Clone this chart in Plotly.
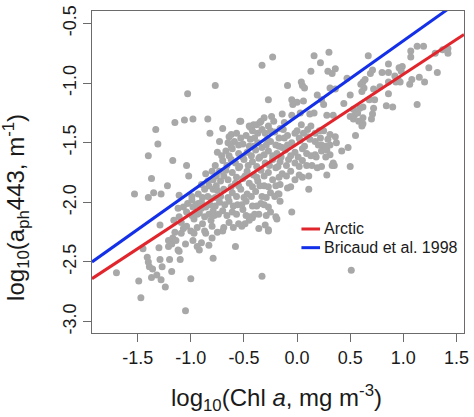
import plotly.graph_objects as go

# ---- data ----
log_chl = [
    -0.77, -1.03,
    -0.33, -0.23, 0.16, 0.22, 0.30, 0.13, 0.29, 0.33, 0.36, -0.09, 0.04, 0.05, 0.07, -0.27, -0.05, 0.00, -0.04, 0.06,
    0.19, 0.23, 0.25, 0.31, 0.36, -0.14, -0.05, -0.31, -0.24, 0.12, 0.16, 0.28, 0.34, 0.03,
    0.67, 0.86, 1.07, 1.13, 1.19, 1.07, 1.30, 1.37, 1.42, 1.42, 1.24, 1.32, 1.15, 1.20, 1.06, 1.08, 0.96, 0.99, 0.98,
    0.92, 0.95, 0.97, 0.80, 0.86, 0.71, 0.69, 0.64, 0.62, 0.60, 0.63, 0.61, 0.47, 0.86, 0.93, 0.72, 0.78, 0.86, 0.50,
    0.68, 0.73, 0.44, 0.59, 0.62, 0.53, 0.57, 0.72, 0.71, 0.84, 0.90, 1.13, 0.50, 0.54, 0.62,
    0.55, 0.48, 0.42, 0.50, 0.53, 0.58, 0.61, 0.62, 0.70,
    -1.33, -1.15, -1.06, -0.98, -0.84, -0.82, -1.31, -1.40, -1.17, -1.04, -1.37, -1.02, -1.53, -1.40, -1.35, -1.28,
    -1.22, -1.11, -0.86, -0.80, -0.90, -0.84, -0.79, -0.93, -0.89, -0.84, -0.81, -0.77, -1.07, -1.03, -0.99, -0.98,
    -0.93, -1.04, -0.99, -0.97, -0.92, -0.87, -0.83, -0.81, -1.29, -1.16, -1.11, -1.09, -0.87, -0.79, -0.90, -0.86,
    -0.79, -0.78, -0.89,
    -1.70, -1.49, -1.47, -1.05, -1.45, -1.30, -1.41, -1.40, -1.39, -1.36, -1.37, -1.32, -1.28, -1.24, -1.27, -1.29,
    -1.20, -1.18, -1.10, -1.00, -1.21, -1.18, -1.21, -1.17, -1.12, -1.11, -1.15, -1.09, -1.07, -1.14, -1.05, -1.00,
    -0.98, -0.97, -0.94, -0.90, -0.86, -0.83, -0.87, -0.80, -0.79, -0.92,
    -0.75, -0.70, -0.69, -0.58, -0.33, -0.36, -0.27, 0.51,
    0.18, 0.28, 0.35, 0.23, -0.25, -0.27, -0.49, -0.42, -0.16, -0.18,
    -0.35, -0.41, -0.44, -0.64, -0.54,
    -0.53, -0.45, -0.38, -0.34, -0.27, -0.22, -0.16, -0.12, 0.04, 0.13,
    -0.70, -0.62, -0.57, -0.48, -0.44, -0.37, -0.30, -0.21, -0.17, -0.09, -0.02, 0.06, 0.17, 0.25, 0.31, 0.36,
    -0.73, -0.65, -0.59, -0.51, -0.45, -0.37, -0.33, -0.25, -0.20, -0.14, -0.05, 0.03, 0.12, 0.17, 0.23, 0.31, 0.37, 0.28,
    -0.75, -0.67, -0.61, -0.55, -0.47, -0.39, -0.31, -0.27, -0.19, -0.11, -0.02, 0.05, 0.09, 0.17, 0.23, 0.31, 0.34,
    -0.70, -0.62, -0.58, -0.50, -0.42, -0.36, -0.30, -0.23, -0.16, -0.08, -0.02, 0.05, 0.14, 0.19, 0.33,
    -0.73, -0.67, -0.61, -0.55, -0.47, -0.41, -0.34, -0.27, -0.20, -0.14, -0.06, 0.02, 0.11,
    -0.72, -0.65, -0.58, -0.51, -0.45, -0.37, -0.31, -0.23, -0.16, -0.09, -0.02, 0.11,
    -0.75, -0.69, -0.61, -0.53, -0.47, -0.39, -0.33, -0.25, -0.17,
    -0.73, -0.64, -0.56, -0.48, -0.42, -0.34, -0.27,
    -0.70, -0.61, -0.51, -0.44, -0.36, -0.20, -0.05,
    -0.64, -0.55, -0.45, -0.30, -0.19,
    # dense core, filled-in points
    -0.42, -0.33, -0.25, -0.13, 0.00, 0.10, 0.21,
    -0.53, -0.40, -0.28, -0.12, 0.02, 0.10, 0.22, 0.29,
    -0.62, -0.55, -0.41, -0.29, -0.17, -0.09, 0.07, 0.20, 0.27,
    -0.71, -0.64, -0.51, -0.43, -0.35, -0.23, -0.15, -0.06, 0.01, 0.13, 0.27,
    -0.77, -0.66, -0.54, -0.46, -0.38, -0.26, -0.18, -0.10, 0.02, 0.09,
    -0.76, -0.69, -0.57, -0.49, -0.38, -0.31, -0.17, -0.10, 0.05,
    -0.83, -0.76, -0.62, -0.55, -0.42, -0.35, -0.27, -0.20, -0.06,
    -0.99, -0.72, -0.65, -0.57, -0.50, -0.43, -0.29, -0.21,
    -0.95, -0.82, -0.77, -0.68, -0.60, -0.52, -0.38, -0.31,
    -0.94, -0.74, -0.66, -0.57, -0.48, -0.40, -0.29,
    -1.12, -0.90,
    -1.04, -0.94, -0.80, -0.60, -0.52,
]

log_aph443 = [
    -1.02, -1.09,
    -0.85, -0.78, -0.77, -0.83, -0.74, -0.90, -0.90, -0.92, -0.88, -1.02, -0.99, -1.02, -1.04, -1.14, -1.14, -1.16, -1.18, -1.15,
    -1.10, -1.14, -1.18, -1.04, -1.05, -1.26, -1.27, -1.29, -1.28, -1.26, -1.25, -1.27, -1.27, -1.25,
    -0.77, -0.84, -0.73, -0.69, -0.69, -0.78, -0.75, -0.72, -0.71, -0.75, -0.87, -0.91, -0.95, -0.99, -1.01, -0.97, -0.87, -0.86, -0.90,
    -0.94, -0.97, -0.99, -0.91, -0.91, -0.89, -0.92, -0.97, -0.99, -1.01, -1.04, -1.07, -0.96, -0.99, -0.99, -1.05, -1.03, -1.09, -1.10,
    -1.14, -1.14, -1.17, -1.21, -1.20, -1.22, -1.25, -1.21, -1.26, -1.19, -1.20, -1.18, -1.28, -1.27, -1.29,
    -1.44, -1.54, -1.57, -1.70, -1.30, -1.32, -1.36, -1.34, -1.30,
    -1.39, -1.33, -1.31, -1.30, -1.30, -1.42, -1.51, -1.61, -1.65, -1.69, -1.80, -1.78, -1.93, -1.96, -1.92, -1.93,
    -1.86, -1.94, -1.76, -1.74, -1.85, -1.82, -1.81, -1.93, -1.96, -1.95, -1.97, -1.96, -2.04, -2.01, -1.98, -2.04,
    -2.01, -2.08, -2.11, -2.14, -2.09, -2.12, -2.10, -2.15, -2.19, -2.15, -2.12, -2.17, -1.89, -1.89, -2.00, -2.04,
    -2.07, -2.11, -2.18,
    -2.59, -2.66, -2.80, -2.91, -2.39, -2.38, -2.46, -2.50, -2.54, -2.56, -2.63, -2.61, -2.65, -2.71, -2.54, -2.48,
    -2.48, -2.58, -2.48, -2.64, -2.37, -2.35, -2.32, -2.30, -2.40, -2.41, -2.25, -2.26, -2.22, -2.32, -2.35, -2.24,
    -2.32, -2.26, -2.37, -2.34, -2.26, -2.36, -2.24, -2.30, -2.47, -2.40,
    -2.25, -2.24, -2.21, -2.37, -2.62, -2.22, -2.24, -2.57,
    -1.62, -1.77, -1.69, -1.70, -2.08, -2.23, -2.18, -2.13, -1.99, -1.93,
    -1.33, -1.35, -1.37, -1.45, -1.32,
    -1.32, -1.36, -1.35, -1.32, -1.36, -1.32, -1.38, -1.33, -1.35, -1.36,
    -1.38, -1.43, -1.42, -1.44, -1.47, -1.42, -1.42, -1.41, -1.46, -1.44, -1.42, -1.42, -1.42, -1.40, -1.43, -1.45,
    -1.49, -1.50, -1.49, -1.51, -1.53, -1.50, -1.54, -1.49, -1.52, -1.54, -1.50, -1.48, -1.47, -1.49, -1.52, -1.52, -1.50, -1.56,
    -1.58, -1.57, -1.55, -1.59, -1.58, -1.56, -1.60, -1.57, -1.59, -1.56, -1.58, -1.55, -1.59, -1.60, -1.57, -1.60, -1.67,
    -1.65, -1.64, -1.67, -1.64, -1.66, -1.63, -1.67, -1.64, -1.66, -1.64, -1.67, -1.65, -1.69, -1.71, -1.69,
    -1.74, -1.73, -1.75, -1.71, -1.74, -1.77, -1.73, -1.75, -1.71, -1.76, -1.74, -1.77, -1.78,
    -1.82, -1.81, -1.84, -1.80, -1.84, -1.82, -1.86, -1.81, -1.85, -1.88, -1.81, -1.89,
    -1.90, -1.89, -1.92, -1.89, -1.93, -1.91, -1.95, -1.92, -1.93,
    -2.00, -1.99, -2.02, -1.99, -2.03, -2.01, -2.04,
    -2.07, -2.08, -2.06, -2.12, -2.10, -2.12, -2.08,
    -2.17, -2.18, -2.15, -2.19, -2.14,
    # dense core, filled-in points
    -1.40, -1.39, -1.40, -1.39, -1.40, -1.39, -1.40,
    -1.46, -1.46, -1.47, -1.46, -1.46, -1.45, -1.46, -1.47,
    -1.53, -1.52, -1.53, -1.52, -1.53, -1.52, -1.53, -1.52, -1.53,
    -1.61, -1.61, -1.62, -1.61, -1.62, -1.61, -1.62, -1.61, -1.62, -1.61, -1.62,
    -1.69, -1.69, -1.70, -1.69, -1.70, -1.69, -1.70, -1.69, -1.70, -1.69,
    -1.78, -1.78, -1.79, -1.78, -1.79, -1.78, -1.79, -1.78, -1.79,
    -1.86, -1.86, -1.87, -1.86, -1.87, -1.86, -1.87, -1.86, -1.87,
    -1.95, -1.95, -1.96, -1.95, -1.96, -1.95, -1.96, -1.95,
    -2.02, -2.02, -2.03, -2.02, -2.03, -2.02, -2.03, -2.02,
    -2.10, -2.10, -2.11, -2.10, -2.11, -2.10, -2.11,
    -2.05, -2.05,
    -2.20, -2.21, -2.20, -2.21, -2.20,
]

# regression lines: log10(aph443) = intercept + slope * log10(Chl)
arctic_intercept, arctic_slope = -1.511, 0.585
bricaud_intercept, bricaud_slope = -1.278, 0.633

x_range = [-1.930, 1.571]
y_range = [-3.096, -0.395]

x_tickvals = [-1.5, -1.0, -0.5, 0.0, 0.5, 1.0, 1.5]
x_ticktext = ["-1.5", "-1.0", "-0.5", "0.0", "0.5", "1.0", "1.5"]
y_tickvals = [-3.0, -2.5, -2.0, -1.5, -1.0, -0.5]
y_ticktext = ["-3.0", "-2.5", "-2.0", "-1.5", "-1.0", "-0.5"]

legend_labels = ["Arctic", "Bricaud et al. 1998"]
red = "#E0262C"
blue = "#1330E8"
grey = "#A8A8A8"
font_family = "Liberation Sans, Arial, Helvetica, sans-serif"

fig = go.Figure()
fig.add_trace(go.Scatter(
    x=log_chl, y=log_aph443, mode="markers",
    marker=dict(color=grey, size=7, line=dict(width=0)),
    showlegend=False, hoverinfo="skip"))

for (b0, b1, col) in [(arctic_intercept, arctic_slope, red), (bricaud_intercept, bricaud_slope, blue)]:
    xs = [x_range[0], x_range[1]]
    ys = [b0 + b1 * v for v in xs]
    fig.add_trace(go.Scatter(x=xs, y=ys, mode="lines",
                             line=dict(color=col, width=3), showlegend=False, hoverinfo="skip"))

axis_common = dict(showline=True, mirror=True, linecolor="#6b6b6b", linewidth=1.2,
                   ticks="outside", ticklen=8, tickcolor="#6b6b6b", tickwidth=1.2,
                   showgrid=False, zeroline=False,
                   tickfont=dict(family=font_family, size=18, color="#1a1a1a"))

fig.update_layout(
    width=474, height=417,
    margin=dict(l=92, r=7, t=5, b=84),
    paper_bgcolor="white", plot_bgcolor="white",
    font=dict(family=font_family, color="#1a1a1a"),
    xaxis=dict(range=x_range, tickvals=x_tickvals, ticktext=x_ticktext, **axis_common),
    yaxis=dict(range=y_range, tickvals=y_tickvals, ticktext=y_ticktext, tickangle=-90, **axis_common),
    showlegend=False,
)

# legend drawn manually (short line samples like the R legend)
leg_y = [0.323, 0.265]
for lab, col, yy in zip(legend_labels, [red, blue], leg_y):
    fig.add_shape(type="line", xref="paper", yref="paper", x0=0.563, x1=0.613, y0=yy, y1=yy,
                  line=dict(color=col, width=3))
    fig.add_annotation(xref="paper", yref="paper", x=0.617, y=yy, text=lab, showarrow=False,
                       xanchor="left", yanchor="middle", font=dict(size=16, family=font_family, color="#1a1a1a"))

# axis titles
fig.add_annotation(xref="paper", yref="paper", x=0.495, y=-0.203,
                   text="log<sub>10</sub>(Chl <i>a</i>, mg m<sup>-3</sup>)", showarrow=False,
                   xanchor="center", yanchor="middle", font=dict(size=24, family=font_family, color="#1a1a1a"))
fig.add_annotation(xref="paper", yref="paper", x=-0.203, y=0.39,
                   text="log<sub>10</sub>(a<sub>ph</sub>443, m<sup>-1</sup>)", showarrow=False, textangle=-90,
                   xanchor="center", yanchor="middle", font=dict(size=24, family=font_family, color="#1a1a1a"))

fig.write_html("out.html")
